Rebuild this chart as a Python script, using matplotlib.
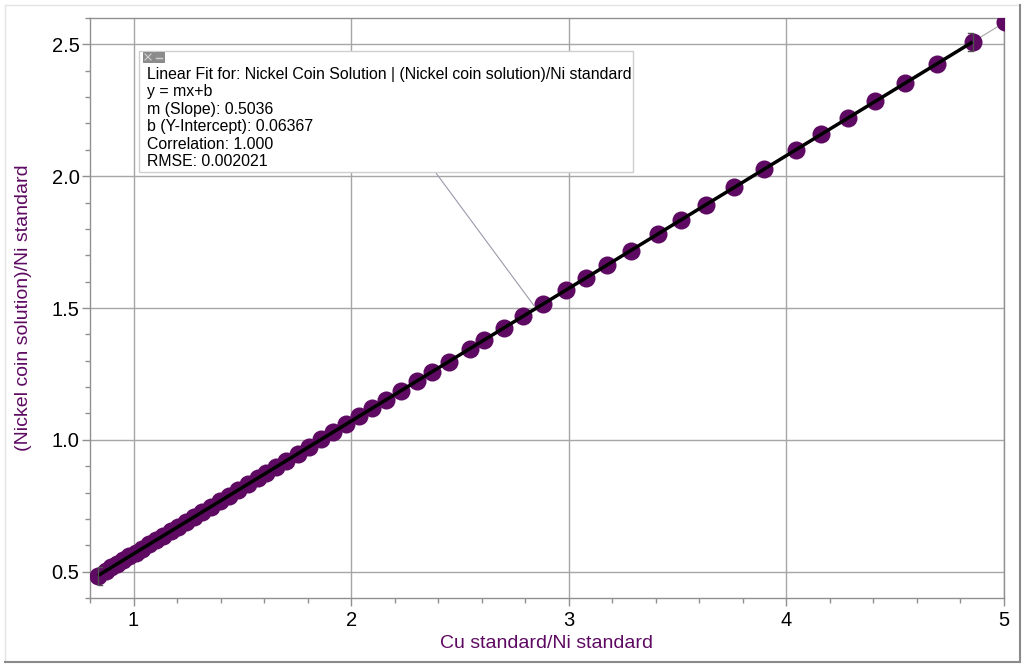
import matplotlib
matplotlib.use("Agg")
import matplotlib.pyplot as plt
from matplotlib.ticker import MultipleLocator, FormatStrFormatter
from matplotlib.patches import Rectangle
from matplotlib.lines import Line2D

plt.rcParams['font.family'] = ['Liberation Sans', 'DejaVu Sans']

# Cu standard/Ni standard
cu_ratio = [0.836, 0.872, 0.898, 0.925, 0.952, 0.981, 1.010, 1.040, 1.071, 1.103,
            1.136, 1.170, 1.205, 1.241, 1.278, 1.316, 1.355, 1.396, 1.438, 1.481,
            1.525, 1.571, 1.610, 1.656, 1.702, 1.755, 1.806, 1.863, 1.916, 1.975,
            2.036, 2.096, 2.162, 2.228, 2.303, 2.372, 2.448, 2.546, 2.612, 2.701,
            2.790, 2.882, 2.989, 3.081, 3.178, 3.284, 3.411, 3.518, 3.629, 3.760,
            3.897, 4.044, 4.159, 4.281, 4.408, 4.543, 4.691, 4.856, 5.005]
# (Nickel coin solution)/Ni standard
ni_ratio = [0.4847, 0.5028, 0.5159, 0.5295, 0.5431, 0.5577, 0.5723, 0.5874, 0.6031, 0.6192,
            0.6358, 0.6529, 0.6705, 0.6887, 0.7073, 0.7264, 0.7461, 0.7667, 0.7879, 0.8095,
            0.8317, 0.8548, 0.8745, 0.8977, 0.9208, 0.9475, 0.9732, 1.0019, 1.0286, 1.0583,
            1.0890, 1.1192, 1.1525, 1.1857, 1.2235, 1.2582, 1.2965, 1.3459, 1.3791, 1.4239,
            1.4687, 1.5151, 1.5690, 1.6153, 1.6641, 1.7175, 1.7815, 1.8354, 1.8913, 1.9572,
            2.0262, 2.1003, 2.1582, 2.2196, 2.2836, 2.3516, 2.4261, 2.5092, 2.5842]

slope = 0.5036
intercept = 0.06367
fit_start = 0.836
fit_end = 4.856

fit_text = ["Linear Fit for: Nickel Coin Solution | (Nickel coin solution)/Ni standard",
            "y = mx+b",
            "m (Slope): 0.5036",
            "b (Y-Intercept): 0.06367",
            "Correlation: 1.000",
            "RMSE: 0.002021"]

purple = '#5e0a62'
W, H = 1024, 667

def fx(x):
    return x / W

def fy(y):
    return 1 - y / H

fig = plt.figure(figsize=(10.24, 6.67), dpi=100)
ax = fig.add_axes([fx(90), fy(598), fx(1004) - fx(90), fy(18) - fy(598)])

ax.plot(cu_ratio, ni_ratio, color='#a8a8a8', lw=0.8, zorder=2)
ax.plot(cu_ratio, ni_ratio, 'o', color=purple, ms=13, mew=0, zorder=3)

# fit line with range brackets
fx0, fx1 = fit_start, fit_end
fy0, fy1 = slope * fx0 + intercept, slope * fx1 + intercept
ax.plot([fx0, fx1], [fy0, fy1], color='black', lw=2.5, solid_capstyle='butt', zorder=4)
for xb, yb, d in [(fx0, fy0, 1), (fx1, fy1, -1)]:
    ax.plot([xb + d * 0.02, xb, xb, xb + d * 0.02], [yb + 0.034, yb + 0.034, yb - 0.034, yb - 0.034],
            color='#505050', lw=1.0, zorder=5, clip_on=False)

ax.set_xlim(0.8, 5.0)
ax.set_ylim(0.4, 2.6)
ax.xaxis.set_major_locator(MultipleLocator(1))
ax.xaxis.set_minor_locator(MultipleLocator(0.2))
ax.yaxis.set_major_locator(MultipleLocator(0.5))
ax.yaxis.set_minor_locator(MultipleLocator(0.1))
ax.yaxis.set_major_formatter(FormatStrFormatter('%.1f'))
ax.grid(True, which='major', color='#a6a6a6', lw=1.0, zorder=0)
ax.set_axisbelow(True)
for s in ax.spines.values():
    s.set_color('#909090')
    s.set_linewidth(1.0)
ax.tick_params(which='major', length=6, width=1, color='#909090', labelsize=14.5, pad=3)
ax.tick_params(which='minor', length=3.5, width=1, color='#909090')
ax.tick_params(axis='y', which='major', pad=1.5)

ax.set_xlabel('Cu standard/Ni standard', color=purple, fontsize=14, labelpad=4)
ax.set_ylabel('(Nickel coin solution)/Ni standard', color=purple, fontsize=14, labelpad=14)

# fit info box
box = Rectangle((fx(139), fy(172)), fx(633) - fx(139), fy(51) - fy(172), transform=fig.transFigure,
                facecolor='white', edgecolor='#cfcfcf', lw=1.0, zorder=10)
fig.add_artist(box)
for i, line in enumerate(fit_text):
    fig.text(fx(147), fy(74 + i * 17.6), line, fontsize=11.4, va='center', ha='left', zorder=11)

# close / minimize icons
for x0 in (143, 154):
    fig.add_artist(Rectangle((fx(x0), fy(62)), fx(10), fy(52) - fy(62), transform=fig.transFigure,
                             facecolor='#8c8c8c', edgecolor='#707070', lw=0.5, zorder=11))
fig.add_artist(Line2D([fx(145), fx(151)], [fy(54), fy(60)], transform=fig.transFigure, color='#d0d0d0', lw=0.8, zorder=12))
fig.add_artist(Line2D([fx(145), fx(151)], [fy(60), fy(54)], transform=fig.transFigure, color='#d0d0d0', lw=0.8, zorder=12))
fig.add_artist(Line2D([fx(156), fx(162)], [fy(58), fy(58)], transform=fig.transFigure, color='#d0d0d0', lw=1.0, zorder=12))

# pointer from box to fit line
x_anchor = 2.84
ax.annotate('', xy=(x_anchor, slope * x_anchor + intercept + 0.015), xycoords='data',
            xytext=(fx(436), fy(173)), textcoords='figure fraction',
            arrowprops=dict(arrowstyle='-', color='#9a9aaa', lw=0.8, shrinkA=0, shrinkB=0), zorder=9)

# outer frame
fig.add_artist(Line2D([fx(5), fx(1019)], [fy(5), fy(5)], transform=fig.transFigure, color='#e4e4e4', lw=1))
fig.add_artist(Line2D([fx(5), fx(5)], [fy(5), fy(662)], transform=fig.transFigure, color='#e4e4e4', lw=1))
fig.add_artist(Line2D([fx(5), fx(1020)], [fy(662), fy(662)], transform=fig.transFigure, color='#8a8a8a', lw=1.5))
fig.add_artist(Line2D([fx(1020), fx(1020)], [fy(5), fy(662)], transform=fig.transFigure, color='#8a8a8a', lw=1.5))

fig.savefig('out.png', dpi=100)
